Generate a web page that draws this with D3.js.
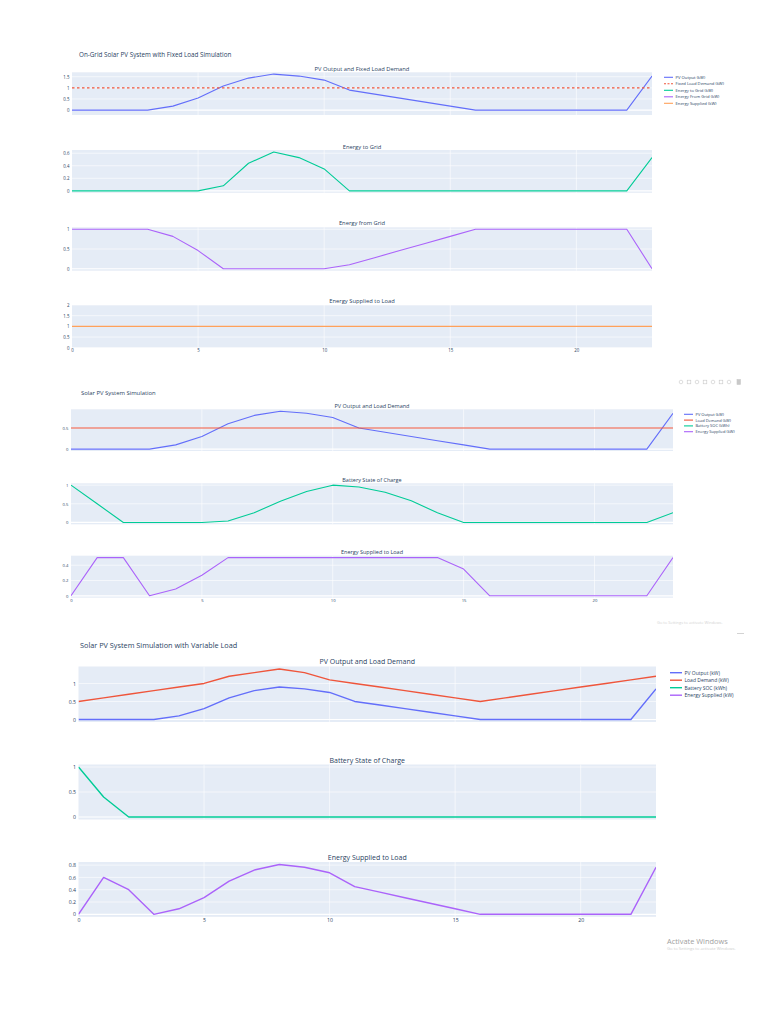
<!DOCTYPE html>
<html>
<head>
<meta charset="utf-8">
<script src="https://cdn.jsdelivr.net/npm/d3@7"></script>
<style>
  body { margin: 0; background: #fff; }
  text { font-family: "Open Sans", "DejaVu Sans", sans-serif; }
</style>
</head>
<body>
<div id="chart"></div>
<script>
// Hours of the day (x axis shared by every panel)
const hours = [0,1,2,3,4,5,6,7,8,9,10,11,12,13,14,15,16,17,18,19,20,21,22,23];
const xTickValues = [0, 5, 10, 15, 20];

// Figure 1 - on-grid system with a fixed load
const gridPv       = [0,0,0,0,0.18,0.54,1.08,1.44,1.62,1.53,1.35,0.9,0.72,0.54,0.36,0.18,0,0,0,0,0,0,0,1.53];
const gridLoad     = [1,1,1,1,1,1,1,1,1,1,1,1,1,1,1,1,1,1,1,1,1,1,1,1];
const gridExport   = [0,0,0,0,0,0,0.08,0.44,0.62,0.53,0.35,0,0,0,0,0,0,0,0,0,0,0,0,0.53];
const gridImport   = [1,1,1,1,0.82,0.46,0,0,0,0,0,0.1,0.28,0.46,0.64,0.82,1,1,1,1,1,1,1,0];
const gridSupplied = [1,1,1,1,1,1,1,1,1,1,1,1,1,1,1,1,1,1,1,1,1,1,1,1];

// Figure 2 - battery system with a constant load
const battPv       = [0,0,0,0,0.1,0.3,0.6,0.8,0.9,0.85,0.75,0.5,0.4,0.3,0.2,0.1,0,0,0,0,0,0,0,0.85];
const battLoad     = [0.5,0.5,0.5,0.5,0.5,0.5,0.5,0.5,0.5,0.5,0.5,0.5,0.5,0.5,0.5,0.5,0.5,0.5,0.5,0.5,0.5,0.5,0.5,0.5];
const battSoc      = [1,0.5,0,0,0,0,0.04,0.26,0.57,0.83,1,0.95,0.81,0.58,0.26,0,0,0,0,0,0,0,0,0.26];
const battSupplied = [0,0.5,0.5,0,0.09,0.27,0.5,0.5,0.5,0.5,0.5,0.5,0.5,0.5,0.5,0.35,0,0,0,0,0,0,0,0.5];

// Figure 3 - battery system with a variable load
const varPv       = [0,0,0,0,0.1,0.3,0.6,0.8,0.9,0.85,0.75,0.5,0.4,0.3,0.2,0.1,0,0,0,0,0,0,0,0.85];
const varLoad     = [0.5,0.6,0.7,0.8,0.9,1,1.2,1.3,1.4,1.3,1.1,1,0.9,0.8,0.7,0.6,0.5,0.6,0.7,0.8,0.9,1,1.1,1.2];
const varSoc      = [1,0.4,0,0,0,0,0,0,0,0,0,0,0,0,0,0,0,0,0,0,0,0,0,0];
const varSupplied = [0,0.6,0.4,0,0.09,0.27,0.54,0.72,0.81,0.765,0.675,0.45,0.36,0.27,0.18,0.09,0,0,0,0,0,0,0,0.765];

// Legend labels
const gridLegend = ["PV Output (kW)", "Fixed Load Demand (kW)", "Energy to Grid (kW)", "Energy From Grid (kW)", "Energy Supplied (kW)"];
const battLegend = ["PV Output (kW)", "Load Demand (kW)", "Battery SOC (kWh)", "Energy Supplied (kW)"];

const colors = { pv: "#636efa", load: "#EF553B", green: "#00cc96", purple: "#ab63fa", orange: "#FFA15A" };
const textColor = "#2a3f5f";

const svg = d3.select("#chart").append("svg")
    .attr("width", 768)
    .attr("height", 1024);
svg.append("rect").attr("width", 768).attr("height", 1024).attr("fill", "#fff");

function drawFigure(fig) {
    const g = svg.append("g");

    g.append("text")
        .attr("x", fig.titleX).attr("y", fig.titleY)
        .attr("dominant-baseline", "central")
        .attr("font-size", fig.titleSize)
        .attr("fill", textColor)
        .text(fig.title);

    const x = d3.scaleLinear().domain([0, 23]).range([fig.left, fig.right]);

    fig.panels.forEach((p, i) => {
        const y = d3.scaleLinear().domain(p.domain).range([p.bottom, p.top]);
        const pg = g.append("g");

        pg.append("rect")
            .attr("x", fig.left).attr("y", p.top)
            .attr("width", fig.right - fig.left).attr("height", p.bottom - p.top)
            .attr("fill", "#E5ECF6");

        // grid lines
        pg.selectAll(".xgrid").data(xTickValues.filter(v => v > 0)).join("line")
            .attr("x1", d => x(d)).attr("x2", d => x(d))
            .attr("y1", p.top).attr("y2", p.bottom)
            .attr("stroke", "#fff").attr("stroke-width", 0.6);
        pg.selectAll(".ygrid").data(p.ticks).join("line")
            .attr("x1", fig.left).attr("x2", fig.right)
            .attr("y1", d => y(d)).attr("y2", d => y(d))
            .attr("stroke", "#fff").attr("stroke-width", d => (d === 0 && p.domain[0] < 0) ? 1.2 : 0.6);

        // subplot title
        pg.append("text")
            .attr("x", (fig.left + fig.right) / 2).attr("y", p.titleY)
            .attr("text-anchor", "middle")
            .attr("dominant-baseline", "central")
            .attr("font-size", fig.subTitleSize)
            .attr("fill", textColor)
            .text(p.title);

        // y axis labels
        const yAxis = pg.append("g")
            .attr("transform", "translate(" + fig.left + ",0)")
            .call(d3.axisLeft(y).tickValues(p.ticks).tickSize(0).tickPadding(2.5).tickFormat(d3.format("~g")));
        yAxis.select(".domain").remove();
        yAxis.attr("font-size", fig.tickSize).attr("font-family", "Open Sans").attr("color", textColor);

        // lines, clipped to the plot area
        const clipId = "clip-" + fig.id + "-" + i;
        pg.append("clipPath").attr("id", clipId).append("rect")
            .attr("x", fig.left).attr("y", p.top)
            .attr("width", fig.right - fig.left).attr("height", p.bottom - p.top);

        const line = d3.line().x((d, j) => x(hours[j])).y(d => y(d));
        p.series.forEach(s => {
            pg.append("path")
                .datum(s.values)
                .attr("clip-path", "url(#" + clipId + ")")
                .attr("d", line)
                .attr("fill", "none")
                .attr("stroke", s.color)
                .attr("stroke-width", fig.lineWidth)
                .attr("stroke-dasharray", s.dash ? s.dash : null)
                .attr("stroke-linejoin", "round");
        });

        // x labels only below the last panel
        if (i === fig.panels.length - 1) {
            const xAxis = pg.append("g")
                .attr("transform", "translate(0," + p.bottom + ")")
                .call(d3.axisBottom(x).tickValues(xTickValues).tickSize(0).tickPadding(1.5));
            xAxis.select(".domain").remove();
            xAxis.attr("font-size", fig.tickSize).attr("font-family", "Open Sans").attr("color", textColor);
        }
    });

    // legend
    const lg = g.append("g");
    fig.legend.items.forEach((it, k) => {
        const ly = fig.legend.y + k * fig.legend.dy;
        lg.append("line")
            .attr("x1", fig.legend.x).attr("x2", fig.legend.x + fig.legend.len)
            .attr("y1", ly).attr("y2", ly)
            .attr("stroke", it.color).attr("stroke-width", fig.lineWidth)
            .attr("stroke-dasharray", it.dash ? it.dash : null);
        lg.append("text")
            .attr("x", fig.legend.x + fig.legend.len + 2.5).attr("y", ly)
            .attr("dominant-baseline", "central")
            .attr("font-size", fig.legend.size)
            .attr("fill", textColor)
            .text(it.label);
    });
}

drawFigure({
    id: "grid",
    title: "On-Grid Solar PV System with Fixed Load Simulation",
    titleX: 79, titleY: 54, titleSize: 6.3,
    subTitleSize: 5.8, tickSize: 4.4, lineWidth: 1.1,
    left: 72, right: 652,
    panels: [
        { title: "PV Output and Fixed Load Demand", titleY: 69.3, top: 72.3, bottom: 115, domain: [-0.22, 1.7], ticks: [0, 0.5, 1, 1.5],
          series: [{ values: gridPv, color: colors.pv }, { values: gridLoad, color: colors.load, dash: "2.5,2.5" }] },
        { title: "Energy to Grid", titleY: 146.7, top: 150, bottom: 192.8, domain: [-0.031, 0.651], ticks: [0, 0.2, 0.4, 0.6],
          series: [{ values: gridExport, color: colors.green }] },
        { title: "Energy from Grid", titleY: 222.8, top: 227.3, bottom: 270.7, domain: [-0.05, 1.05], ticks: [0, 0.5, 1],
          series: [{ values: gridImport, color: colors.purple }] },
        { title: "Energy Supplied to Load", titleY: 301, top: 305, bottom: 347.7, domain: [0, 2], ticks: [0, 0.5, 1, 1.5, 2],
          series: [{ values: gridSupplied, color: colors.orange }] }
    ],
    legend: { x: 664, y: 77.3, dy: 6.5, len: 9, size: 4.2,
        items: [
            { label: gridLegend[0], color: colors.pv },
            { label: gridLegend[1], color: colors.load, dash: "2,1.5" },
            { label: gridLegend[2], color: colors.green },
            { label: gridLegend[3], color: colors.purple },
            { label: gridLegend[4], color: colors.orange }
        ] }
});

drawFigure({
    id: "batt",
    title: "Solar PV System Simulation",
    titleX: 81, titleY: 392.7, titleSize: 5.9,
    subTitleSize: 5.5, tickSize: 4.2, lineWidth: 1.1,
    left: 71, right: 673,
    panels: [
        { title: "PV Output and Load Demand", titleY: 406, top: 409.3, bottom: 451, domain: [-0.045, 0.945], ticks: [0, 0.5],
          series: [{ values: battPv, color: colors.pv }, { values: battLoad, color: colors.load }] },
        { title: "Battery State of Charge", titleY: 480, top: 483.3, bottom: 524.3, domain: [-0.05, 1.05], ticks: [0, 0.5, 1],
          series: [{ values: battSoc, color: colors.green }] },
        { title: "Energy Supplied to Load", titleY: 552.3, top: 555.7, bottom: 597.7, domain: [-0.025, 0.525], ticks: [0, 0.2, 0.4],
          series: [{ values: battSupplied, color: colors.purple }] }
    ],
    legend: { x: 684, y: 414.3, dy: 5.8, len: 9, size: 4,
        items: [
            { label: battLegend[0], color: colors.pv },
            { label: battLegend[1], color: colors.load },
            { label: battLegend[2], color: colors.green },
            { label: battLegend[3], color: colors.purple }
        ] }
});

drawFigure({
    id: "var",
    title: "Solar PV System Simulation with Variable Load",
    titleX: 80, titleY: 645, titleSize: 7.3,
    subTitleSize: 7, tickSize: 5.2, lineWidth: 1.4,
    left: 78.5, right: 656,
    panels: [
        { title: "PV Output and Load Demand", titleY: 661.7, top: 666.5, bottom: 722, domain: [-0.07, 1.47], ticks: [0, 0.5, 1],
          series: [{ values: varPv, color: colors.pv }, { values: varLoad, color: colors.load }] },
        { title: "Battery State of Charge", titleY: 760, top: 764.5, bottom: 819.5, domain: [-0.05, 1.05], ticks: [0, 0.5, 1],
          series: [{ values: varSoc, color: colors.green }] },
        { title: "Energy Supplied to Load", titleY: 857.3, top: 862, bottom: 916.8, domain: [-0.0405, 0.8505], ticks: [0, 0.2, 0.4, 0.6, 0.8],
          series: [{ values: varSupplied, color: colors.purple }] }
    ],
    legend: { x: 670, y: 672.7, dy: 7.5, len: 12, size: 5,
        items: [
            { label: battLegend[0], color: colors.pv },
            { label: battLegend[1], color: colors.load },
            { label: battLegend[2], color: colors.green },
            { label: battLegend[3], color: colors.purple }
        ] }
});

// modebar remnants above the second figure
const mb = svg.append("g").attr("fill", "none").attr("stroke", "#c8c8c8").attr("stroke-width", 0.6);
[681, 689, 697, 705, 713, 721, 729].forEach((mx, k) => {
    if (k % 2 === 0) mb.append("circle").attr("cx", mx).attr("cy", 382).attr("r", 1.8);
    else mb.append("rect").attr("x", mx - 1.8).attr("y", 380.2).attr("width", 3.6).attr("height", 3.6);
});
mb.append("rect").attr("x", 737).attr("y", 379.5).attr("width", 3.5).attr("height", 5).attr("fill", "#c8c8c8");

// screen watermark remnants
svg.append("text").attr("x", 657).attr("y", 622).attr("dominant-baseline", "central")
    .attr("font-size", 4).attr("fill", "#d4d4d4").text("Go to Settings to activate Windows.");
svg.append("line").attr("x1", 737).attr("x2", 744).attr("y1", 633.5).attr("y2", 633.5)
    .attr("stroke", "#c8c8c8").attr("stroke-width", 0.8);
svg.append("text").attr("x", 667).attr("y", 940.7).attr("dominant-baseline", "central")
    .attr("font-size", 7.4).attr("fill", "#a0a0a0").text("Activate Windows");
svg.append("text").attr("x", 667).attr("y", 948.5).attr("dominant-baseline", "central")
    .attr("font-size", 4.2).attr("fill", "#cfcfcf").text("Go to Settings to activate Windows.");
</script>
</body>
</html>
